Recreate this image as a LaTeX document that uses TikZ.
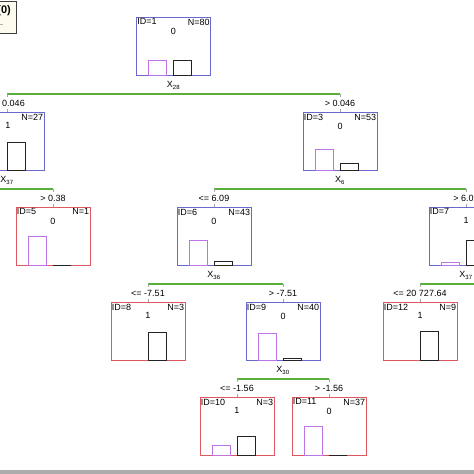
\documentclass[tikz,border=0pt]{standalone}
\usepackage{fontspec}
\setmainfont{Liberation Sans}
\usetikzlibrary{calc}
\definecolor{blueC}{RGB}{105,105,205}
\definecolor{redC}{RGB}{222,88,98}
\definecolor{magC}{RGB}{190,115,230}
\definecolor{greenC}{RGB}{90,175,60}
\definecolor{blkC}{RGB}{35,35,35}
\definecolor{creamC}{RGB}{253,251,238}
\tikzset{
  txt/.style={font=\fontsize{9}{10}\selectfont, inner sep=0pt},
  tbox/.style={draw, line width=0.9pt, minimum width=74pt, minimum height=58pt, inner sep=0pt},
  inner/.style={tbox, draw=blueC},
  leaf/.style={tbox, draw=redC},
  ghost/.style={minimum width=74pt, minimum height=58pt, inner sep=0pt},
  magbar/.style={draw=magC, line width=0.9pt},
  blkbar/.style={draw=blkC, line width=0.9pt},
  split/.style={draw=greenC, line width=1.2pt},
  tick/.style={draw=gray!70, line width=0.5pt},
}
% name, cx, top, id, n, class, style
\newcommand\tnode[7]{%
  \node[#7] (#1) at (#2,#3+29) {};
  \node[txt, anchor=north west] at ($(#1.north west)+(1,2)$) {ID=#4};
  \node[txt, anchor=north east] at ($(#1.north east)+(-1,2)$) {N=#5};
  \node[txt, anchor=north] at ($(#1.north)+(0,11)$) {#6};
}
\newcommand\mbar[2]{\draw[magbar] ($(#1.south)+(-25,0)$) rectangle ($(#1.south)+(-7,-#2)$);}
\newcommand\kbar[2]{\draw[blkbar] ($(#1.south)+(0,0)$) rectangle ($(#1.south)+(18,-#2)$);}
% parent, left child, right child, var label, left cond, right cond
\newcommand\tsplit[6]{%
  \node[txt] (#1x) at ($(#1.south)+(0,10)$) {#4};
  \coordinate (#1l) at ($(#1.south)+(0,18.5)$);
  \draw[split] (#2.north |- #1l) -- (#3.north |- #1l);
  \draw[tick] (#2.north |- #1l) -- ++(0,3);
  \draw[tick] (#3.north |- #1l) -- ++(0,3);
  \draw[tick] (#2.north) -- ++(0,-3);
  \draw[tick] (#3.north) -- ++(0,-3);
  \node[txt] at ($(#2.north |- #1l)+(0,9)$) {#5};
  \node[txt] at ($(#3.north |- #1l)+(0,9)$) {#6};
}
\begin{document}
\begin{tikzpicture}[x=1pt,y=-1pt]
\useasboundingbox (0,0) rectangle (474,474);
\clip (0,0) rectangle (474,474);
\fill[white] (0,0) rectangle (474,474);
% legend box
\draw[fill=creamC, draw=black!75, line width=1pt] (-40,1) rectangle (16,33);
\node[txt, anchor=east, font=\fontsize{11}{12}\selectfont\bfseries] (leg) at (11,11) {(0)};
\draw[gray!60, line width=0.8pt] (0,24) -- (3,24);
% nodes
\tnode{n1}{173.5}{17}{1}{80}{0}{inner}
\node[inner] (n2) at (7,112+29) {};
\node[txt, anchor=north east] at ($(n2.north east)+(-1,2)$) {N=27};
\node[txt, anchor=north] at ($(n2.north)+(1,11)$) {1};
\tnode{n3}{340}{112}{3}{53}{0}{inner}
\node[ghost] (n4) at (-45,207+29) {};
\tnode{n5}{53}{207}{5}{1}{0}{leaf}
\tnode{n6}{214}{207}{6}{43}{0}{inner}
\node[inner] (n7) at (466,207+29) {};
\node[txt, anchor=north west] at ($(n7.north west)+(1,2)$) {ID=7};
\node[txt, anchor=north] at ($(n7.north)+(0,11)$) {1};
\tnode{n8}{148}{302}{8}{3}{1}{leaf}
\tnode{n9}{283}{302}{9}{40}{0}{inner}
\tnode{n12}{420}{302}{12}{9}{1}{leaf}
\node[ghost] (n13) at (512,302+29) {};
\tnode{n10}{237}{397}{10}{3}{1}{leaf}
\tnode{n11}{329}{397}{11}{37}{0}{leaf}
% bars
\mbar{n1}{15}\kbar{n1}{15}
\kbar{n2}{28}
\mbar{n3}{21}\kbar{n3}{7}
\mbar{n5}{29}\kbar{n5}{0}
\mbar{n6}{25}\kbar{n6}{4}
\mbar{n7}{3}\kbar{n7}{25}
\kbar{n8}{28}
\mbar{n9}{27}\kbar{n9}{2}
\kbar{n12}{29}
\mbar{n10}{10}\kbar{n10}{19}
\mbar{n11}{29}\kbar{n11}{0}
% splits
\tsplit{n1}{n2}{n3}{X\textsubscript{28}}{<= 0.046}{> 0.046}
\tsplit{n2}{n4}{n5}{X\textsubscript{37}}{}{> 0.38}
\tsplit{n3}{n6}{n7}{X\textsubscript{6}}{<= 6.09}{> 6.09}
\tsplit{n6}{n8}{n9}{X\textsubscript{36}}{<= -7.51}{> -7.51}
\tsplit{n7}{n12}{n13}{X\textsubscript{37}}{<= 20 727.64}{}
\tsplit{n9}{n10}{n11}{X\textsubscript{30}}{<= -1.56}{> -1.56}
% bottom band
\fill[gray!65] (0,470) rectangle (474,474);
\end{tikzpicture}
\end{document}
